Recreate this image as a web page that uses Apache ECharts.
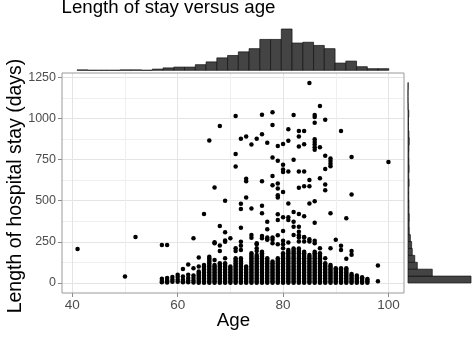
<!DOCTYPE html>
<html><head><meta charset="utf-8">
<script src="https://cdn.jsdelivr.net/npm/echarts@6/dist/echarts.min.js"></script>
<style>html,body{margin:0;padding:0;background:#fff}#c{width:474px;height:338px}</style>
</head><body><div id="c"></div>
<script>
// ---- data ----
const ages = [41,50,52,57,58,59,60,61,62,63,64,65,66,67,68,69,70,71,72,73,74,75,76,77,78,79,80,81,82,83,84,85,86,87,88,89,90,91,92,93,94,95,96,98,100];
const stays = [
 [207],[40],[280],
 [5,12,26,231],
 [3,10,18,30,231],
 [8,20,36],
 [8,20,36,50],
 [4,10,20,40,85],
 [5,15,30,50,112],
 [3,15,30,45,90,272],
 [1,9,18,27,36,45,55,63,70,100,155],
 [1,9,18,27,36,45,55,64,73,82,91,100,110,419],
 [1,9,18,27,36,45,55,64,73,82,91,100,110,120,130,140,150,160,865],
 [1,9,18,27,36,45,55,64,73,82,91,100,110,140,242,248,580],
 [1,9,18,27,36,45,55,64,73,82,91,100,110,120,195,228,346,954],
 [1,9,18,27,36,45,55,64,73,82,91,100,110,120,150,251,258,308,499],
 [1,9,18,27,36,45,55,64,73,82,91,100,272],
 [1,9,18,27,36,45,55,64,73,82,91,100,110,120,130,140,150,195,211,708,783,1015],
 [1,9,18,27,36,45,55,64,73,82,91,100,110,120,130,140,150,201,227,251,336,449,481,876],
 [1,9,18,27,36,45,55,64,73,82,91,100,519,618,634,890],
 [1,9,18,27,36,45,55,64,73,82,91,100,110,120,130,140,150,160,170,180,275,292,453,841],
 [1,9,18,27,36,45,55,64,73,82,91,100,110,120,130,140,150,160,170,195,211,235,242,876],
 [1,9,18,27,36,45,55,64,73,82,91,100,110,120,130,140,150,160,170,180,190,272,286,423,469,618,904,1022],
 [1,9,18,27,36,45,55,64,73,82,91,100,110,120,130,140,150,262,268,276,326,372,852],
 [1,9,18,27,36,45,55,64,73,82,91,100,110,120,130,242,262,276,594,650,763,960,1037],
 [1,9,18,27,36,45,55,64,73,82,91,100,110,120,130,140,150,235,290,382,417,519,533,574,604,743,833],
 [1,9,18,27,36,45,55,64,73,82,91,100,110,120,130,140,150,160,170,180,211,235,256,316,399,553,675,690,719,845],
 [1,9,18,27,36,45,55,64,73,82,91,100,110,120,130,140,150,160,170,180,190,200,246,382,399,483,678,864,934],
 [1,9,18,27,36,45,55,64,73,82,91,100,110,120,130,140,150,160,170,180,190,200,210,292,342,372,432,749,1021],
 [1,9,18,27,36,45,55,64,73,82,91,100,110,120,130,140,150,160,170,180,190,200,210,252,276,290,312,342,419,578,678,829,890,924],
 [1,9,18,27,36,45,55,64,73,82,91,100,110,120,130,140,150,160,170,180,190,252,276,280,405,588,678,843,924],
 [1,9,18,27,36,45,55,64,73,82,91,100,110,120,130,140,150,160,170,252,266,483,588,626,1215],
 [1,9,18,27,36,45,55,64,73,82,91,100,110,120,130,140,150,160,170,180,190,242,256,366,497,809,825,841,857,873,974,1008,1020],
 [1,9,18,27,36,45,55,64,73,82,91,100,110,120,130,140,150,160,170,180,211,636,825,1075],
 [1,9,18,27,36,45,55,64,73,82,91,100,110,120,150,563,598,692,773,992],
 [1,9,18,27,36,45,55,64,73,82,91,100,110,211,423,709,725,741,757],
 [1,9,18,27,36,45,55,64,73,82,90,262],
 [1,9,18,27,36,45,55,64,73,82,90,201,227,924],
 [1,9,18,27,36,45,55,64,73,82,90,147,393],
 [1,9,18,27,36,45,55,171,195,537,765],
 [1,9,18,27,36,45],
 [1,9,18,27,35],
 [1,9,18,25],
 [10,107],
 [735]
];
// marginal histogram of age (bin start, bin width, counts)
const ageBinStart = 40.91;
const ageBinWidth = 2.04;
const ageCounts = [1,0,0,0,1,1,0,3,6,8,8,14,21,31,37,46,54,77,77,103,68,70,62,54,18,23,9,4,4];
// marginal histogram of length of stay
const stayBinStart = 0;
const stayBinWidth = 42;
const stayCounts = [400,154,59,43,27,23,15,8,7,8,6,6,5,5,7,5,7,6,5,6,8,6,3,3,5,1,0,0,1];
// axes
const xTicks = [40, 60, 80, 100];
const yTicks = [0, 250, 500, 750, 1000, 1250];
const xRange = [38.05, 102.95];
const yRange = [-60.75, 1275.75];

// ---- layout ----
const P = {left: 62, top: 73, width: 342, height: 220};
const xpx = v => P.left + (v - xRange[0]) / (xRange[1] - xRange[0]) * P.width;
const ypx = v => P.top + P.height - (v - yRange[0]) / (yRange[1] - yRange[0]) * P.height;
const xT0 = xTicks[0], xT1 = xTicks[xTicks.length - 1];
const yT0 = yTicks[0], yT1 = yTicks[yTicks.length - 1];

const FONT = '"Liberation Sans", Arial, sans-serif';
const points = [];
ages.forEach((a, i) => stays[i].forEach(s => points.push([a, s])));
const ageHist = ageCounts.map((c, j) => [ageBinStart + j * ageBinWidth, ageBinStart + (j + 1) * ageBinWidth, c]);
const stayHist = stayCounts.map((c, j) => [c, stayBinStart + j * stayBinWidth, stayBinStart + (j + 1) * stayBinWidth]);

const barStyle = {fill: '#444444', stroke: '#111111', lineWidth: 0.7};
const grid = '#e4e4e4', gridMinor = '#efefef';

const chart = echarts.init(document.getElementById('c'), null, {renderer: 'canvas'});
chart.setOption({
  animation: false,
  title: {text: 'Length of stay versus age', left: 61.5, top: -2, padding: 0,
    textStyle: {fontFamily: FONT, fontSize: 18.7, fontWeight: 'normal', color: '#000'}},
  grid: [
    {left: P.left, top: P.top, width: P.width, height: P.height, show: true, borderColor: '#9a9a9a', borderWidth: 1, z: 3, backgroundColor: 'transparent'},
    {left: xpx(xT0), top: P.top, width: xpx(xT1) - xpx(xT0), height: P.height},
    {left: P.left, top: ypx(yT1), width: P.width, height: ypx(yT0) - ypx(yT1)},
    {left: P.left, top: 27, width: P.width, height: 43.3},
    {left: 408, top: P.top, width: 66, height: P.height}
  ],
  xAxis: [
    {gridIndex: 0, type: 'value', min: xRange[0], max: xRange[1], show: false},
    {gridIndex: 1, type: 'value', min: xT0, max: xT1, interval: 20,
      axisLine: {show: false}, axisTick: {show: true, length: 4, lineStyle: {color: '#8a8a8a'}},
      axisLabel: {fontFamily: FONT, fontSize: 13.5, color: '#4d4d4d', margin: 5, formatter: v => String(v)},
      splitLine: {show: true, lineStyle: {color: grid, width: 1}},
      minorTick: {show: false, splitNumber: 2},
      minorSplitLine: {show: true, lineStyle: {color: gridMinor, width: 1}}},
    {gridIndex: 2, type: 'value', min: xRange[0], max: xRange[1], show: false},
    {gridIndex: 3, type: 'value', min: xRange[0], max: xRange[1], show: false},
    {gridIndex: 4, type: 'value', min: 0, max: 419, show: false}
  ],
  yAxis: [
    {gridIndex: 0, type: 'value', min: yRange[0], max: yRange[1], show: false},
    {gridIndex: 1, type: 'value', min: 0, max: 1, show: false},
    {gridIndex: 2, type: 'value', min: yT0, max: yT1, interval: 250,
      axisLine: {show: false}, axisTick: {show: true, length: 4, lineStyle: {color: '#8a8a8a'}},
      axisLabel: {fontFamily: FONT, fontSize: 12.5, color: '#4d4d4d', margin: 6, formatter: v => String(v)},
      splitLine: {show: true, lineStyle: {color: grid, width: 1}},
      minorTick: {show: false, splitNumber: 2},
      minorSplitLine: {show: true, lineStyle: {color: gridMinor, width: 1}}},
    {gridIndex: 3, type: 'value', min: 0, max: 108, show: false},
    {gridIndex: 4, type: 'value', min: yRange[0], max: yRange[1], show: false}
  ],
  series: [
    {type: 'scatter', xAxisIndex: 0, yAxisIndex: 0, data: points, symbolSize: 4.5,
      itemStyle: {color: '#000', opacity: 1}, z: 5, silent: true},
    {type: 'custom', xAxisIndex: 3, yAxisIndex: 3, data: ageHist, silent: true,
      renderItem: (p, api) => {
        const a = api.coord([api.value(0), 0]);
        const b = api.coord([api.value(1), api.value(2)]);
        return {type: 'rect', shape: {x: a[0], y: b[1], width: b[0] - a[0], height: a[1] - b[1]}, style: barStyle};
      }},
    {type: 'custom', xAxisIndex: 4, yAxisIndex: 4, data: stayHist, silent: true,
      renderItem: (p, api) => {
        const a = api.coord([0, api.value(1)]);
        const b = api.coord([api.value(0), api.value(2)]);
        return {type: 'rect', shape: {x: a[0], y: b[1], width: b[0] - a[0], height: a[1] - b[1]}, style: barStyle};
      }}
  ],
  graphic: [
    {type: 'text', x: 233.5, y: 321, silent: true,
      style: {text: 'Age', font: '18.7px ' + FONT, fill: '#000', align: 'center', verticalAlign: 'middle', textAlign: 'center', textVerticalAlign: 'middle'}},
    {type: 'text', x: 16, y: 186, rotation: Math.PI / 2, silent: true,
      style: {text: 'Length of hospital stay (days)', font: '19.5px ' + FONT, fill: '#000', align: 'center', verticalAlign: 'middle', textAlign: 'center', textVerticalAlign: 'middle'}}
  ]
});
</script></body></html>
